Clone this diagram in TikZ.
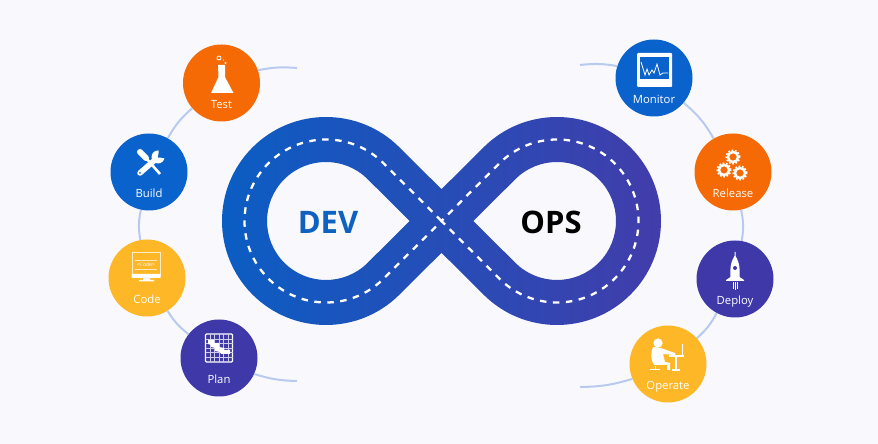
\documentclass[tikz,border=0pt]{standalone}
\usepackage{fontspec}
\setmainfont{Open Sans}
\usetikzlibrary{positioning, calc}
\definecolor{bgcol}{HTML}{F9F9FD}
\definecolor{ringcol}{HTML}{B8CAEE}
\definecolor{bluecol}{HTML}{0A62CC}
\definecolor{purplecol}{HTML}{3F38A8}
\definecolor{orangecol}{HTML}{F56A05}
\definecolor{yellowcol}{HTML}{FDB727}
\definecolor{devcol}{HTML}{0F62C0}

\begin{document}
\begin{tikzpicture}[x=1pt, y=1pt,
    stage/.style = {circle, minimum size = 77pt, inner sep = 0pt},
    link/.style = {ringcol, line width = 2pt},
    hole/.style = {even odd rule, left color = bluecol!96!black, right color = purplecol!98!white}]
\useasboundingbox[fill = bgcol] (0,0) rectangle (878,444);

\node[stage, fill = orangecol] (test) at (221.5,361) {};
\node[stage, fill = bluecol] (build) at (149,272) {};
\node[stage, fill = yellowcol] (code) at (147,166) {};
\node[stage, fill = purplecol] (plan) at (219,86) {};
\node[stage, fill = bluecol] (monitor) at (654,366) {};
\node[stage, fill = orangecol] (release) at (733,272) {};
\node[stage, fill = purplecol] (deploy) at (735,165) {};
\node[stage, fill = yellowcol] (operate) at (668,80) {};
\coordinate (devtop) at (297,376);
\coordinate (devbot) at (297,63);
\coordinate (opstop) at (580,379);
\coordinate (opsbot) at (580,57);

\draw[link] (devtop) to[bend right=8] (test);
\draw[link] (test) to[bend right=10] (build);
\draw[link] (build) to[bend right=11] (code);
\draw[link] (code) to[bend right=10] (plan);
\draw[link] (plan) to[bend right=8] (devbot);
\draw[link] (opstop) to[bend left=8] (monitor);
\draw[link] (monitor) to[bend left=10] (release);
\draw[link] (release) to[bend left=11] (deploy);
\draw[link] (deploy) to[bend left=10] (operate);
\draw[link] (operate) to[bend left=8] (opsbot);

% road
\coordinate (lobeL) at (326,223);
\coordinate (lobeR) at (557,223);
\coordinate (cross) at (441.5,223);
\shade[hole]
    (441.5,254.8) -- ($(lobeL)+(45:104)$) arc[start angle=45, end angle=315, radius=104]
    -- (441.5,191.2) -- ($(lobeR)+(225:104)$) arc[start angle=225, end angle=495, radius=104] -- cycle
    (409.7,223) -- ($(lobeL)+(45:59)$) arc[start angle=45, end angle=315, radius=59] -- cycle
    (473.3,223) -- ($(lobeR)+(225:59)$) arc[start angle=225, end angle=495, radius=59] -- cycle;
\draw[white, line width = 2.3pt, dash pattern = on 6.5pt off 6.5pt]
    (cross) -- ($(lobeL)+(45:81.5)$) arc[start angle=45, end angle=315, radius=81.5]
    -- (cross) -- ($(lobeR)+(225:81.5)$) arc[start angle=225, end angle=495, radius=81.5] -- cycle;

\node[text = devcol, font = \fontsize{31}{36}\selectfont\bfseries] (dev) at (328,222) {DEV};
\node[text = black, font = \fontsize{31}{36}\selectfont\bfseries] (ops) at (551,222) {OPS};

\begin{scope}[nodes = {below = 17pt, text = white, inner sep = 0pt, text height = 8pt, text depth = 2pt,
    font = \fontsize{11.3}{13}\selectfont}]
    \node (testlbl) at (test) {Test};
    \node (buildlbl) at (build) {Build};
    \node (codelbl) at (code) {Code};
    \node (planlbl) at (plan) {Plan};
    \node (monitorlbl) at (monitor) {Monitor};
    \node (releaselbl) at (release) {Release};
    \node (deploylbl) at (deploy) {Deploy};
    \node (operatelbl) at (operate) {Operate};
\end{scope}

% flask
\begin{scope}[shift = {(test.center)}]
    \fill[white] (-3.5,18) -- (3.5,18) -- (3.5,6) -- (12,-10) -- (-10.5,-10) -- (-3,6) -- cycle;
    \draw[white, line width = .8pt] (-2.5,25) circle (2);
    \fill[white] (4,20) circle (1.1) (2,23) circle (.7);
\end{scope}
% tools
\begin{scope}[shift = {(build.center)}]
    \draw[white, line width = 6pt, line cap = round] (-9,20) -- (-3,14);
    \draw[white, line width = 2.6pt] (-3,14) -- (11,-2);
    \draw[white, line width = 5.5pt, line cap = round] (-9,-1) -- (7,13);
    \fill[white] (9,15) circle (6.5);
    \fill[bluecol] (9,14.5) -- (16,14) -- (16,23) -- (10,23) -- cycle;
    \fill[bluecol] (-9,-1) circle (1);
\end{scope}
% screen
\begin{scope}[shift = {(code.center)}]
    \draw[white!75!yellowcol, line width = 1pt] (-15,25) rectangle (13,2);
    \fill[white] (-15.5,4) rectangle (13.5,0) (-4,0) rectangle (3,-2) (-8,-2) rectangle (7,-3.5);
    \draw[white!70!yellowcol, line width = .7pt] (-12,18) -- (10,18) (-12,9) -- (10,9);
    \node[text = white, inner sep = 0pt, font = \fontsize{5}{6}\selectfont] (codetag) at (-1,13.5) {<Code>};
\end{scope}
% grid
\begin{scope}[shift = {(plan.center)}]
    \draw[white, line width = 1.1pt, rounded corners = 1pt] (-13.5,24) rectangle (13.5,-4);
    \foreach \t in {-9,-4.5,0,4.5,9} {
        \draw[white!75!purplecol, line width = .6pt] (\t,24) -- (\t,-4);
        \draw[white!75!purplecol, line width = .6pt] (-13.5,\t+10) -- (13.5,\t+10);
    }
    \fill[white] (-11,18) -- (-5,18) -- (-5,15) -- (0,15) -- (0,11) -- (5,10) -- (5,8) -- (11,8) -- (11,4) -- (2,4) -- (1,6) -- (-4,7) -- (-4,10) -- (-8,11) -- (-8,13) -- (-11,14) -- cycle;
\end{scope}
% chart
\begin{scope}[shift = {(monitor.center)}]
    \fill[white, rounded corners = 1pt] (-17,25) rectangle (18,-9);
    \fill[bluecol] (-14,20.5) rectangle (14.5,-1);
    \draw[white, line width = .8pt] (-13,16) -- (-9,3) -- (-7,9) -- (-5,3) -- (-2,8) -- (0,5) -- (3,14) -- (6,3) -- (9,5) -- (14,5);
\end{scope}
% gears
\begin{scope}[shift = {(release.center)}]
    \foreach \gx/\gy in {0/15, -9/2, 7/-1} {
        \draw[white, line width = 2.4pt] (\gx,\gy) circle (5);
        \draw[white, line width = 1.6pt, dash pattern = on 1.7pt off 1.7pt] (\gx,\gy) circle (6.7);
    }
\end{scope}
% rocket
\begin{scope}[shift = {(deploy.center)}]
    \fill[white] (-.5,27) -- (.5,27) -- (.5,23) .. controls (5,16) and (5,8) .. (4.5,2) -- (9,-1) -- (9,-2) -- (-9,-2) -- (-9,-1) -- (-4.5,2) .. controls (-5,8) and (-5,16) .. (-.5,23) -- cycle;
    \fill[purplecol] (0,11) circle (2);
    \draw[white, line width = .8pt] (-2,-3) -- (-2,-10) (0,-3) -- (0,-11) (2,-3) -- (2,-10);
\end{scope}
% desk
\begin{scope}[shift = {(operate.center)}]
    \fill[white] (-10,21) circle (4.6);
    \fill[white] (-15,17) .. controls (-8,17) and (-5,15) .. (7,11) -- (7,9) -- (-5,10) -- (-3,2) -- (2,1) -- (2,-6) -- (-1,-6) -- (-1,-1) -- (-14,-1) .. controls (-18,5) and (-17,12) .. (-15,17) -- cycle;
    \draw[white, line width = 1pt] (-13,-2) -- (-13,-5) (-18,-6) -- (-8,-6);
    \draw[white, line width = 1.2pt] (1,8) -- (16,8) (8,8) -- (8,-5) (4,-6) -- (12,-6);
    \draw[white, line width = .8pt] (14.5,8) -- (14.5,20);
\end{scope}
\end{tikzpicture}
\end{document}
